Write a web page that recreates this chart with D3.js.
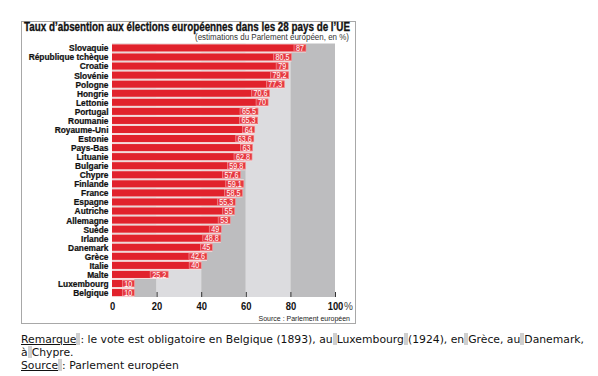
<!DOCTYPE html>
<html>
<head>
<meta charset="utf-8">
<script src="https://cdn.jsdelivr.net/npm/d3@7"></script>
<style>
  body { margin: 0; background: #fff; }
  #wrap { position: relative; width: 598px; height: 376px; overflow: hidden; }
  #note {
    position: absolute; left: 21px; top: 333px; width: 577px;
    font-family: "DejaVu Sans", Verdana, sans-serif; font-size: 10.8px;
    line-height: 13px; color: #111;
  }
  #note u { text-decoration: underline; }
  #note .gap { display: inline-block; width: 4px; height: 12px; background: #cfcfcf; vertical-align: -2px; }
</style>
</head>
<body>
<div id="wrap">
  <svg id="chart" width="598" height="376"></svg>
  <div id="note"></div>
</div>
<script>
var countries = ["Slovaquie", "République tchèque", "Croatie", "Slovénie", "Pologne", "Hongrie",
  "Lettonie", "Portugal", "Roumanie", "Royaume-Uni", "Estonie", "Pays-Bas", "Lituanie",
  "Bulgarie", "Chypre", "Finlande", "France", "Espagne", "Autriche", "Allemagne", "Suède",
  "Irlande", "Danemark", "Grèce", "Italie", "Malte", "Luxembourg", "Belgique"];
var abstention = [87, 80.5, 79, 79.2, 77.3, 70.6, 70, 65.5, 65.3, 64, 63.6, 63, 62.8,
  59.8, 57.6, 59.1, 58.5, 55.3, 55, 53, 49, 48.8, 45, 42.6, 40, 25.2, 10, 10];
var tickValues = [0, 20, 40, 60, 80, 100];
var bandStops = [0, 20, 40, 60, 80];

var title = "Taux d\u2019absention aux élections européennes dans les 28 pays de l\u2019UE";
var subtitle = "(estimations du Parlement européen, en %)";
var sourceText = "Source : Parlement européen";

var svg = d3.select("#chart");
var condensed = "'Liberation Sans', Arial, sans-serif";

var x = d3.scaleLinear().domain([0, 100]).range([112, 335]);
var y = d3.scaleBand().domain(countries).range([43.5, 297]).paddingInner(0.22).paddingOuter(0.1);

// frame
svg.append("rect")
  .attr("x", 21.5).attr("y", 21.5).attr("width", 334).attr("height", 302)
  .attr("fill", "#fff").attr("stroke", "#a8a8a8").attr("stroke-width", 1);

// title + subtitle
svg.append("text")
  .attr("x", 24).attr("y", 30.5)
  .attr("font-family", condensed).attr("font-weight", "bold").attr("font-size", 12)
  .attr("textLength", 326).attr("lengthAdjust", "spacingAndGlyphs")
  .attr("stroke", "#111").attr("stroke-width", 0.3)
  .attr("fill", "#111")
  .text(title);

svg.append("text")
  .attr("x", 195).attr("y", 39.5)
  .attr("font-family", condensed).attr("font-size", 8.5)
  .attr("textLength", 154).attr("lengthAdjust", "spacingAndGlyphs")
  .attr("fill", "#333")
  .text(subtitle);

// background bands
svg.append("g").selectAll("rect")
  .data(bandStops)
  .join("rect")
  .attr("x", function (d) { return x(d); })
  .attr("y", y.range()[0])
  .attr("width", function (d) { return x(d + 20) - x(d); })
  .attr("height", y.range()[1] - y.range()[0])
  .attr("fill", function (d, i) { return i % 2 === 0 ? "#bdbdbf" : "#dcdcdf"; });

// axis, ticks pointing up inside the bands
var axis = d3.axisBottom(x).tickValues(tickValues).tickSize(-5).tickPadding(0)
  .tickFormat(function (d) { return d; });
var axisG = svg.append("g")
  .attr("transform", "translate(0," + y.range()[1] + ")")
  .call(axis);
axisG.select(".domain").remove();
axisG.selectAll(".tick line").attr("stroke", "#333").attr("stroke-width", 1);
axisG.selectAll(".tick text")
  .attr("y", 13).attr("dy", 0)
  .attr("transform", "scale(0.82,1)")
  .attr("font-family", condensed).attr("font-weight", "bold").attr("font-size", 11.5)
  .attr("fill", "#111");
axisG.append("text")
  .attr("x", x(100) + 13.5).attr("y", 13)
  .attr("font-family", condensed).attr("font-size", 10)
  .attr("fill", "#444")
  .text("%");

// rows
var rows = svg.append("g").selectAll("g")
  .data(countries)
  .join("g")
  .attr("transform", function (d) { return "translate(0," + y(d) + ")"; });

rows.append("rect")
  .attr("x", x(0))
  .attr("y", -1)
  .attr("width", function (d, i) { return x(abstention[i]) - x(0); })
  .attr("height", y.bandwidth() + 2)
  .attr("fill", "#f6dede");

rows.append("rect")
  .attr("x", x(0))
  .attr("width", function (d, i) { return x(abstention[i]) - x(0); })
  .attr("height", y.bandwidth())
  .attr("fill", "#e1222c");

// country labels
rows.append("text")
  .attr("transform", "translate(108.5," + (y.bandwidth() / 2) + ") scale(0.88,1)")
  .attr("dy", "0.36em")
  .attr("text-anchor", "end")
  .attr("font-family", condensed).attr("font-weight", "bold").attr("font-size", 9.5)
  .attr("stroke", "#111").attr("stroke-width", 0.25)
  .attr("fill", "#111")
  .text(function (d) { return d; });

// value labels
var fmt = function (v) { return String(v).replace(".", ","); };
rows.each(function (d, i) {
  var g = d3.select(this);
  var xe = x(abstention[i]);
  var box = g.append("rect");
  var t = g.append("text")
    .attr("transform", "translate(" + (xe - 2) + "," + (y.bandwidth() / 2) + ") scale(0.85,1)")
    .attr("dy", "0.36em")
    .attr("text-anchor", "end")
    .attr("font-family", condensed).attr("font-size", 8.5)
    .attr("fill", "#fff")
    .text(fmt(abstention[i]));
  var w = t.node().getComputedTextLength() * 0.85;
  box.attr("x", xe - w - 4).attr("y", 0.3)
    .attr("width", w + 4).attr("height", y.bandwidth() - 0.6)
    .attr("fill", "#e63a42").attr("stroke", "#f3a3a6").attr("stroke-width", 0.6);
});

// source in frame
svg.append("text")
  .attr("x", 350).attr("y", 320.5)
  .attr("text-anchor", "end")
  .attr("font-family", condensed).attr("font-size", 7)
  .attr("fill", "#222")
  .text(sourceText);

// note under chart
d3.select("#note").html(
  "<u>Remarque</u><span class='gap'></span>: le vote est obligatoire en Belgique (1893), au<span class='gap'></span>Luxembourg<span class='gap'></span>(1924), en<span class='gap'></span>Grèce, au<span class='gap'></span>Danemark,<br>" +
  "à<span class='gap'></span>Chypre.<br>" +
  "<u>Source</u><span class='gap'></span>: Parlement européen");
</script>
</body>
</html>
